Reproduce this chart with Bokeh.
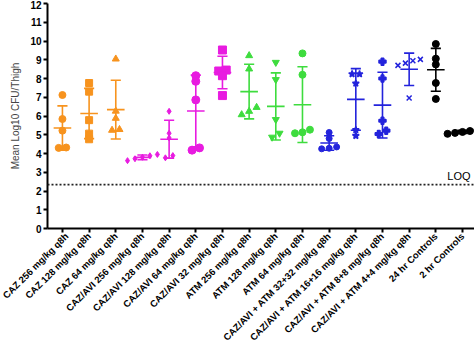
import numpy as np
from bokeh.plotting import figure
from bokeh.models import FixedTicker, Span, Label, Range1d
from bokeh.embed import file_html
from bokeh.resources import INLINE

categories = ["CAZ 256 mg/kg q8h", "CAZ 128 mg/kg q8h", "CAZ 64 mg/kg q8h",
              "CAZ/AVI 256 mg/kg q8h", "CAZ/AVI 128 mg/kg q8h", "CAZ/AVI 64 mg/kg q8h",
              "CAZ/AVI 32 mg/kg q8h", "ATM 256 mg/kg q8h", "ATM 128 mg/kg q8h",
              "ATM 64 mg/kg q8h", "CAZ/AVI + ATM 32+32 mg/kg q8h",
              "CAZ/AVI + ATM 16+16 mg/kg q8h", "CAZ/AVI + ATM 8+8 mg/kg q8h",
              "CAZ/AVI + ATM 4+4 mg/kg q8h", "24 hr Controls", "2 hr Controls"]

caz_256 = [7.12, 5.84, 5.22, 4.32, 4.30]
caz_128 = [7.76, 7.30, 5.78, 5.06, 4.76]
caz_64 = [9.04, 6.26, 5.88, 5.24, 5.28]
cazavi_256 = [3.95, 3.88, 3.80, 3.72, 3.62]
cazavi_128 = [6.25, 5.08, 4.83, 3.89, 3.77]
cazavi_64 = [8.15, 7.85, 6.86, 4.30, 4.18]
cazavi_32 = [9.52, 8.40, 8.45, 8.15, 7.09]
atm_256 = [9.22, 8.51, 6.46, 6.25, 6.07]
atm_128 = [8.86, 7.94, 5.81, 5.08, 4.87]
atm_64 = [9.34, 8.20, 5.27, 5.13, 5.08]
combo_32 = [5.12, 4.80, 4.35, 4.28, 4.25]
combo_16 = [8.24, 8.24, 7.74, 5.26, 4.95]
combo_8 = [8.90, 8.00, 5.75, 5.22, 5.04]
combo_4 = [9.02, 8.95, 8.82, 8.70, 6.96]
ctrl_24 = [9.84, 9.06, 8.75, 7.76, 6.91]
ctrl_2 = [5.26, 5.20, 5.15, 5.10, 5.05]

groups = [caz_256, caz_128, caz_64, cazavi_256, cazavi_128, cazavi_64, cazavi_32,
          atm_256, atm_128, atm_64, combo_32, combo_16, combo_8, combo_4, ctrl_24, ctrl_2]

ORANGE, MAGENTA, GREEN, BLUE, BLACK = "#F7931E", "#E81BE0", "#3EDC3E", "#2323DC", "#000000"
colors = [ORANGE] * 3 + [MAGENTA] * 4 + [GREEN] * 3 + [BLUE] * 4 + [BLACK] * 2
markers = ["circle", "square", "triangle", "diamond", "diamond", "circle", "square",
           "triangle", "inverted_triangle", "circle", "circle", "star", "plus", "x",
           "circle", "circle"]
sizes = [7, 7, 7, 6, 6, 8, 8, 7, 7, 7, 6, 7, 7, 7, 7, 7]

loq = 2.34

p = figure(width=474, height=353, output_backend="svg", toolbar_location=None,
           x_range=Range1d(-0.56, 15.45), y_range=Range1d(0, 12),
           min_border_left=47, min_border_right=0, min_border_top=3, min_border_bottom=125)
p.outline_line_color = None
p.xgrid.visible = False
p.ygrid.visible = False
p.background_fill_color = "white"
p.border_fill_color = "white"


def offsets(vals, tol=0.22, step=0.28):
    order = np.argsort(vals)
    off = np.zeros(len(vals))
    clusters = []
    cur = [order[0]]
    for a, b in zip(order[:-1], order[1:]):
        if abs(vals[b] - vals[a]) < tol:
            cur.append(b)
        else:
            clusters.append(cur)
            cur = [b]
    clusters.append(cur)
    for c in clusters:
        n = len(c)
        for k, idx in enumerate(c):
            off[idx] = (k - (n - 1) / 2) * step
    return off


for i, vals in enumerate(groups):
    v = np.array(vals, dtype=float)
    m = v.mean()
    sd = v.std(ddof=1)
    c = colors[i]
    # SD bar and caps
    p.segment(x0=[i], y0=[m - sd], x1=[i], y1=[m + sd], line_color=c, line_width=1.6)
    p.segment(x0=[i - 0.19, i - 0.19], y0=[m - sd, m + sd], x1=[i + 0.19, i + 0.19],
              y1=[m - sd, m + sd], line_color=c, line_width=1.6)
    # mean line
    p.segment(x0=[i - 0.33], y0=[m], x1=[i + 0.33], y1=[m], line_color=c, line_width=1.6)
    xs = i + offsets(v)
    p.scatter(x=xs, y=v, marker=markers[i], size=sizes[i], fill_color=c, line_color=c,
              line_width=1.5 if markers[i] in ("plus", "x", "star") else 1)

p.add_layout(Span(location=loq, dimension="width", line_color="#222222",
                  line_width=1.6, line_dash="2 2"))
p.add_layout(Label(x=15.3, y=loq + 0.12, text="LOQ", text_align="right",
                   text_baseline="bottom", text_font="Liberation Sans",
                   text_font_size="11px", text_color="black"))

# axes
p.yaxis.ticker = FixedTicker(ticks=list(range(0, 13)))
p.yaxis.axis_label = "Mean Log10 CFU/Thigh"
p.yaxis.axis_label_text_font = "Liberation Sans"
p.yaxis.axis_label_text_font_style = "normal"
p.yaxis.axis_label_text_font_size = "10px"
p.yaxis.axis_label_standoff = 6
p.xaxis.ticker = FixedTicker(ticks=list(range(len(categories))))
p.xaxis.major_label_overrides = {i: c for i, c in enumerate(categories)}
p.xaxis.major_label_orientation = np.pi / 4
for ax in (p.xaxis[0], p.yaxis[0]):
    ax.axis_line_width = 2
    ax.axis_line_color = "black"
    ax.major_tick_line_width = 2
    ax.major_tick_out = 4
    ax.major_tick_in = 0
    ax.minor_tick_line_color = None
    ax.major_label_text_font = "Liberation Sans"
    ax.major_label_text_font_style = "bold"
    ax.major_label_text_color = "black"
p.yaxis.major_label_text_font_size = "10px"
p.yaxis.major_label_standoff = 2
p.xaxis.major_label_text_font_size = "9.5px"
p.xaxis.major_label_standoff = 2

# caption (cropped in the reference)
p.add_layout(Label(x=-47, y=-121, x_units="screen", y_units="screen", text="FIG 3",
                   text_font="Liberation Sans", text_font_style="bold",
                   text_font_size="10px", text_baseline="middle", text_color="#222222"))
p.add_layout(Label(x=-15, y=-121, x_units="screen", y_units="screen",
                   text="Individual and mean counts of log\u2081\u2080 CFU per thigh for various antibiotic\u2013\u03b2-lactamase inhibitor combinations in the",
                   text_font="Liberation Sans", text_font_size="10px",
                   text_baseline="middle", text_color="#333333"))

open("out.html", "w").write(file_html(p, INLINE))
